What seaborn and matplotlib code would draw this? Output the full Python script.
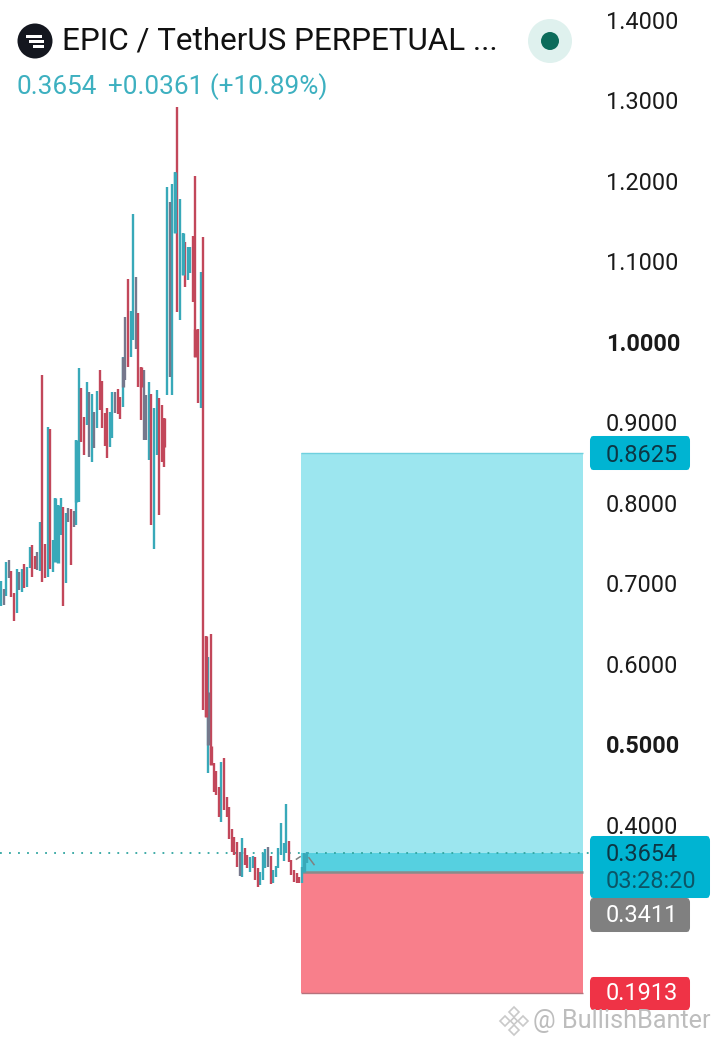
import matplotlib
matplotlib.use('Agg')
import matplotlib.pyplot as plt
from matplotlib.patches import Circle, FancyBboxPatch, Rectangle, Polygon
from matplotlib.transforms import IdentityTransform
import pandas as pd
import seaborn as sns

sns.set_theme(style='white')
plt.rcParams['font.family'] = ['Roboto', 'DejaVu Sans']
plt.rcParams['lines.solid_capstyle'] = 'butt'

# Candles, t = teal, r = red, g = grey (overlapping bars)
candle_color = list('tgtgrrtgtr' 'ttrrgtrrtr' 'ttttrtgrgt' 'trrtgtgtrr' 'rrttgrrtgr'
                    'ttgrrggtrt' 'trrrtgttrt' 'trttrrrtrr' 'trrrrtrrrr' 'rrgtrrttrr'
                    'tttgrttttt' 'trrrrrttt')

high = [0.703, 0.693, 0.727, 0.729, 0.715, 0.688, 0.718, 0.714, 0.718, 0.724,
        0.720, 0.745, 0.748, 0.734, 0.739, 0.776, 0.959, 0.749, 0.894, 0.892,
        0.754, 0.806, 0.798, 0.806, 0.795, 0.788, 0.794, 0.793, 0.790, 0.878,
        0.968, 0.943, 0.907, 0.950, 0.938, 0.935, 0.913, 0.939, 0.965, 0.951,
        0.912, 0.918, 0.913, 0.938, 0.938, 0.942, 0.932, 0.981, 1.031, 1.078,
        1.038, 1.159, 1.081, 1.036, 0.969, 0.965, 0.934, 0.950, 0.935, 0.918,
        0.940, 0.930, 0.922, 0.905, 1.192, 1.174, 1.196, 1.211, 1.292, 1.178,
        1.135, 1.124, 1.118, 1.118, 1.132, 1.206, 1.016, 1.087, 1.130, 0.635,
        0.609, 0.637, 0.477, 0.467, 0.447, 0.478, 0.483, 0.435, 0.422, 0.395,
        0.385, 0.379, 0.366, 0.384, 0.371, 0.363, 0.360, 0.361, 0.360, 0.347,
        0.342, 0.365, 0.370, 0.373, 0.361, 0.344, 0.349, 0.371, 0.403, 0.378,
        0.426, 0.380, 0.357, 0.344, 0.340, 0.335, 0.348, 0.365, 0.367]
low = [0.672, 0.673, 0.684, 0.707, 0.683, 0.653, 0.663, 0.692, 0.689, 0.694,
       0.696, 0.719, 0.708, 0.718, 0.717, 0.715, 0.702, 0.707, 0.708, 0.718,
       0.714, 0.727, 0.725, 0.760, 0.672, 0.701, 0.776, 0.723, 0.770, 0.773,
       0.801, 0.876, 0.860, 0.897, 0.857, 0.851, 0.868, 0.893, 0.915, 0.893,
       0.871, 0.856, 0.870, 0.881, 0.912, 0.911, 0.904, 0.919, 0.953, 0.969,
       0.981, 1.002, 0.991, 0.944, 0.903, 0.878, 0.878, 0.853, 0.773, 0.743,
       0.860, 0.785, 0.851, 0.845, 0.934, 0.956, 0.934, 1.135, 1.037, 1.027,
       1.083, 1.068, 1.077, 1.086, 1.050, 0.981, 0.924, 0.918, 0.543, 0.534,
       0.465, 0.475, 0.441, 0.437, 0.410, 0.404, 0.419, 0.410, 0.383, 0.366,
       0.363, 0.348, 0.337, 0.335, 0.350, 0.347, 0.342, 0.347, 0.332, 0.323,
       0.325, 0.332, 0.347, 0.348, 0.327, 0.328, 0.335, 0.347, 0.363, 0.355,
       0.365, 0.354, 0.338, 0.329, 0.328, 0.328, 0.328, 0.342, 0.353]

# candles whose real body is visible as a thicker stroke
body_index = [21, 22, 29, 47, 54, 63, 67, 70, 75, 79, 80, 81, 117]
body_high = [0.806, 0.798, 0.878, 0.981, 0.969, 0.905, 1.211, 1.135, 1.016, 0.635, 0.565, 0.498, 0.365]
body_low = [0.727, 0.725, 0.801, 0.944, 0.944, 0.870, 1.135, 1.083, 0.981, 0.534, 0.499, 0.475, 0.342]
body_color = list('tttgrrttrrgrt')

y_ticks = [1.4, 1.3, 1.2, 1.1, 1.0, 0.9, 0.8, 0.7, 0.6, 0.5, 0.4]
y_labels = ['1.4000', '1.3000', '1.2000', '1.1000', '1.0000', '0.9000', '0.8000',
            '0.7000', '0.6000', '0.5000', '0.4000']

last_price = 0.3654
target_price = 0.8625
entry_price = 0.3411
stop_price = 0.1913

tool_left_x = [113.7, 115.6]
tool_left_y = [0.357, 0.361]
tool_right_x = [118.6, 120.9]
tool_right_y = [0.360, 0.350]

palette = {'t': '#38A9B9', 'r': '#C2475A', 'g': '#75788C'}

W, H = 720, 1046

wicks = pd.DataFrame({
    'idx': list(range(len(high))) * 2,
    'price': high + low,
    'color': candle_color * 2,
})
bodies = pd.DataFrame({
    'idx': body_index * 2,
    'price': body_high + body_low,
    'color': body_color * 2,
})

fig = plt.figure(figsize=(7.2, 10.46), dpi=100, facecolor='white')
ax = fig.add_axes([0, 0, 1, 1])


def fx(x):
    return x / W


def fy(y):
    return 1 - y / H


# position tool boxes, x in axes fraction
ax.axhspan(last_price, target_price, xmin=fx(301), xmax=fx(583), color='#9CE6EF', lw=0, zorder=1)
ax.axhspan(entry_price, last_price, xmin=fx(301), xmax=fx(583), color='#56D0E0', lw=0, zorder=1)
ax.axhspan(stop_price, entry_price, xmin=fx(301), xmax=fx(583), color='#F87F8B', lw=0, zorder=1)
ax.plot([fx(301), fx(583)], [target_price] * 2, color='#6FD0DE', lw=1,
        transform=ax.get_yaxis_transform(), zorder=2)
ax.plot([fx(301), fx(583)], [entry_price] * 2, color='#8A8A8A', lw=1.8,
        transform=ax.get_yaxis_transform(), zorder=2)
ax.plot([fx(301), fx(583)], [stop_price] * 2, color='#B5727C', lw=1,
        transform=ax.get_yaxis_transform(), zorder=2)

ax.plot([0, fx(590)], [last_price] * 2, color='#2FA5A0', lw=1.3, ls=(0, (1, 4)),
        transform=ax.get_yaxis_transform(), zorder=3)

sns.lineplot(data=wicks, x='idx', y='price', hue='color', units='idx', estimator=None,
             palette=palette, linewidth=1.7, sort=False, legend=False, ax=ax, zorder=4)
sns.lineplot(data=bodies, x='idx', y='price', hue='color', units='idx', estimator=None,
             palette=palette, linewidth=2.4, sort=False, legend=False, ax=ax, zorder=4)

ax.plot(tool_left_x, tool_left_y, color='#808080', lw=1.1, zorder=5)
ax.plot(tool_right_x, tool_right_y, color='#808080', lw=1.1, zorder=5)

# index 0 sits at 1 px, candles 2.593 px apart; 805 px per price unit
ax.set_xlim(-1 / 2.593, (W - 1) / 2.593)
ax.set_ylim(1.4248 - H / 805, 1.4248)
ax.set_xlabel('')
ax.set_ylabel('')
ax.set_xticks([])
ax.set_yticks(y_ticks)
ax.set_yticklabels(y_labels)
ax.tick_params(axis='y', left=False, right=False, labelleft=False, labelright=True,
               length=0, pad=-82.0, labelsize=16.9, labelcolor='#1A1A1A')
for lab in ax.get_yticklabels():
    lab.set_ha('left')
    if lab.get_text() in ('1.0000', '0.5000'):
        lab.set_fontweight('bold')
for s in ax.spines.values():
    s.set_visible(False)
ax.patch.set_alpha(0)


def box(x0, y0, x1, y1, color):
    fig.add_artist(FancyBboxPatch((fx(x0 + 2), fy(y1 - 2)), (x1 - x0 - 4) / W, (y1 - y0 - 4) / H,
                                  boxstyle='round,pad=0,rounding_size=0.002', mutation_aspect=H / W,
                                  facecolor=color, edgecolor=color, lw=2.9,
                                  transform=fig.transFigure, zorder=6))


def label(x, y, text, color, size=16.9, **kw):
    fig.text(fx(x), fy(y), text, color=color, fontsize=size, va='center', ha='left', zorder=7, **kw)


box(590, 436, 690, 470, '#00B4D2')
label(606, 455, '0.8625', '#0D3644')
box(590, 836, 710, 898, '#00B4D2')
label(606, 854.5, '0.3654', '#0D3644')
label(606, 882, '03:28:20', '#0C5566')
box(590, 898, 690, 932, '#808080')
label(606, 916, '0.3411', 'white')
box(590, 977, 690, 1010, '#EF3346')
label(606, 994, '0.1913', 'white')

# header
label(62, 41.5, 'EPIC / TetherUS PERPETUAL ...', '#111111', size=22.55)
label(16, 86.5, '0.3654', '#3DB0C0', size=18.8)
label(108, 86.5, '+0.0361 (+10.89%)', '#3DB0C0', size=18.8)


def circle(x, y, r, color):
    # pixel radius, y measured from the top of the picture
    fig.add_artist(Circle((x, H - y), r, color=color, lw=0, transform=IdentityTransform(), zorder=6))


circle(35, 41, 17.5, '#14171F')
for y0, x0, x1 in [(36, 26, 42), (41, 29, 44), (46, 33, 44)]:
    fig.add_artist(Rectangle((fx(x0), fy(y0 + 1.5)), (x1 - x0) / W, 3 / H, color='white', lw=0,
                             transform=fig.transFigure, zorder=7))
circle(550, 41, 22, '#DFF1EE')
circle(550, 41, 9, '#0B6B5A')

# watermark
for cx, cy, r in [(514, 1012, 5), (505, 1021, 5), (523, 1021, 5), (514, 1030, 5), (514, 1021, 3.5)]:
    fig.add_artist(Polygon([(fx(cx - r), fy(cy)), (fx(cx), fy(cy - r)), (fx(cx + r), fy(cy)), (fx(cx), fy(cy + r))],
                           closed=True, facecolor='white', edgecolor='#C9C9C9', lw=1.2,
                           transform=fig.transFigure, zorder=7))
label(533, 1021, '@ BullishBanter', '#BDBDBD', size=18.2)

fig.savefig('out.png', dpi=100)
